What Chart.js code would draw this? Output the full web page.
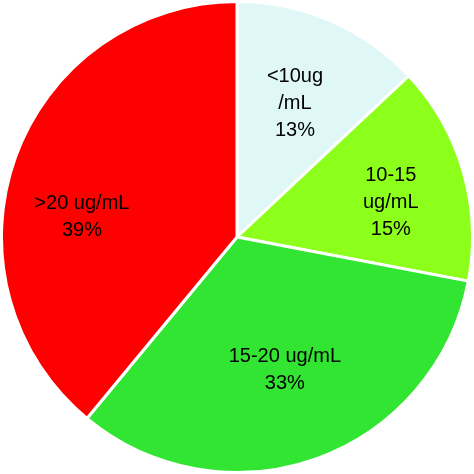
<!DOCTYPE html>
<html>
<head>
<meta charset="utf-8">
<script src="https://cdn.jsdelivr.net/npm/chart.js@4"></script>
<style>
  html, body { margin: 0; padding: 0; background: #fff; }
  #wrap { width: 474px; height: 474px; }
</style>
</head>
<body>
<div id="wrap"><canvas id="pie"></canvas></div>
<script>
// ── Data ─────────────────────────────────────────────
const categories = ['<10ug/mL', '10-15 ug/mL', '15-20 ug/mL', '>20 ug/mL'];
const shares = [13, 15, 33, 39];
const labelLines = [
  ['<10ug', '/mL', '13%'],
  ['10-15', 'ug/mL', '15%'],
  ['15-20 ug/mL', '33%'],
  ['>20 ug/mL', '39%']
];

// ── Styles ───────────────────────────────────────────
const COLORS = ['#e0f7f7', '#8cff1a', '#33e533', '#ff0000'];
const LABEL_R = [0.62, 0.68, 0.6, 0.7];
const LABEL_DY = [0, 10, 0, 36];

const sliceLabels = {
  id: 'sliceLabels',
  afterDatasetsDraw(chart) {
    const ctx = chart.ctx;
    const meta = chart.getDatasetMeta(0);
    ctx.save();
    ctx.fillStyle = '#000';
    ctx.font = '20px "Liberation Sans", Arial, sans-serif';
    ctx.textAlign = 'center';
    ctx.textBaseline = 'middle';
    meta.data.forEach((arc, i) => {
      const { x, y, startAngle, endAngle, outerRadius } = arc.getProps(['x', 'y', 'startAngle', 'endAngle', 'outerRadius'], true);
      const mid = (startAngle + endAngle) / 2;
      const r = outerRadius * LABEL_R[i];
      const cx = x + Math.cos(mid) * r;
      const cy = y + Math.sin(mid) * r + LABEL_DY[i];
      const lines = labelLines[i];
      const lh = 27;
      lines.forEach((t, j) => {
        ctx.fillText(t, cx, cy + (j - (lines.length - 1) / 2) * lh);
      });
    });
    ctx.restore();
  }
};

new Chart(document.getElementById('pie').getContext('2d'), {
  type: 'pie',
  data: {
    labels: categories,
    datasets: [{
      data: shares,
      backgroundColor: COLORS,
      borderColor: '#ffffff',
      borderWidth: 3
    }]
  },
  options: {
    responsive: true,
    maintainAspectRatio: false,
    animation: false,
    layout: { padding: 0 },
    plugins: { legend: { display: false }, tooltip: { enabled: false } }
  },
  plugins: [sliceLabels]
});
</script>
</body>
</html>
